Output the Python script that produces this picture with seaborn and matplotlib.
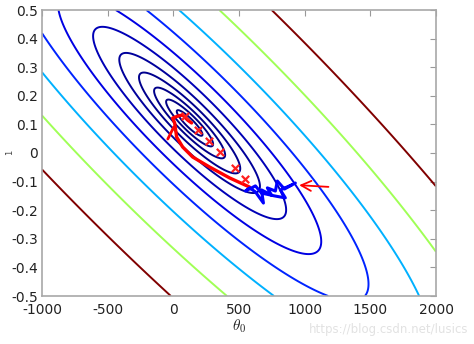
import numpy as np
import pandas as pd
import matplotlib
matplotlib.use("Agg")
import matplotlib.pyplot as plt
import seaborn as sns

# Quadratic cost surface J(theta0, theta1) = J_MIN + a*d0^2 + b*d0*d1 + c*d1^2
THETA0_MIN = 124.0
THETA1_MIN = 0.105
J_MIN = 1.5
COEF_A = 4.72974e-4
COEF_B = 1.86861
COEF_C = 2.25990e3
LEVELS = np.logspace(-2, 3, 20)

# Batch gradient descent iterates (red crosses)
batch_theta0 = [86, 185, 268, 352, 473, 549]
batch_theta1 = [0.129, 0.080, 0.042, 0.0035, -0.052, -0.091]

# Red descent trace
red_theta0 = [580, 428, 276, 147, 71, 25, 10, -5, 33, 71, 109, 139]
red_theta1 = [-0.119, -0.087, -0.049, -0.014, 0.021, 0.056, 0.105, 0.122, 0.129, 0.133, 0.115, 0.105]
red_tick_theta0 = [-42, 4]
red_tick_theta1 = [0.049, 0.091]

# Stochastic gradient descent trace (blue)
sgd_theta0 = [929, 846, 792, 777, 716, 747, 671, 686, 625, 580, 549, 625, 671, 770, 853, 815, 899]
sgd_theta1 = [-0.105, -0.126, -0.098, -0.133, -0.122, -0.147, -0.129, -0.175, -0.136,
              -0.122, -0.133, -0.115, -0.140, -0.150, -0.157, -0.129, -0.112]

# Arrow marking the starting point
arrow_tail = (1202, -0.119)
arrow_head = (937, -0.112)

x_ticks = [-1000, -500, 0, 500, 1000, 1500, 2000]
y_ticks = [-0.5, -0.4, -0.3, -0.2, -0.1, 0, 0.1, 0.2, 0.3, 0.4, 0.5]


def cost(t0, t1):
    d0 = t0 - THETA0_MIN
    d1 = t1 - THETA1_MIN
    return J_MIN + COEF_A * d0 ** 2 + COEF_B * d0 * d1 + COEF_C * d1 ** 2


sns.set_style("white")
plt.rcParams["font.family"] = ["DejaVu Sans"]
plt.rcParams["mathtext.fontset"] = "cm"

fig = plt.figure(figsize=(4.74, 3.44), dpi=100)
ax = fig.add_axes([42 / 474, 48 / 344, 394 / 474, 286 / 344])

g0 = np.linspace(-1000, 2000, 500)
g1 = np.linspace(-0.5, 0.5, 500)
G0, G1 = np.meshgrid(g0, g1)
Z = cost(G0, G1)

jet = matplotlib.colormaps["jet"]
colors = [jet(l / LEVELS[-1]) for l in LEVELS]
ax.contour(G0, G1, Z, levels=LEVELS, colors=colors, linewidths=1.4)

red_df = pd.DataFrame({"theta0": red_theta0, "theta1": red_theta1})
sns.lineplot(data=red_df, x="theta0", y="theta1", sort=False, estimator=None,
             color="#ff0000", linewidth=2.4, ax=ax)
ax.plot(red_tick_theta0, red_tick_theta1, color="#ff0000", linewidth=2.0)

sgd_df = pd.DataFrame({"theta0": sgd_theta0, "theta1": sgd_theta1})
sns.lineplot(data=sgd_df, x="theta0", y="theta1", sort=False, estimator=None,
             color="#0000ff", linewidth=2.2, ax=ax)

batch_df = pd.DataFrame({"theta0": batch_theta0, "theta1": batch_theta1})
sns.scatterplot(data=batch_df, x="theta0", y="theta1", marker="x", color="#ff2020",
                s=28, linewidth=1.6, ax=ax, zorder=5)

ax.annotate("", xy=arrow_head, xytext=arrow_tail,
            arrowprops=dict(arrowstyle="->", color="#ff0000", lw=1.3,
                            mutation_scale=18))

ax.set_xlim(-1000, 2000)
ax.set_ylim(-0.5, 0.5)
ax.set_xticks(x_ticks)
ax.set_yticks(y_ticks)
ax.set_xticklabels([str(v) for v in x_ticks])
ax.set_yticklabels([f"{v:g}" for v in y_ticks])
ax.tick_params(direction="in", length=4, width=0.8, color="#999999",
               top=True, right=True, labelsize=10, labelcolor="#222222")
ax.tick_params(axis="x", pad=5)
ax.tick_params(axis="y", pad=3)
for s in ax.spines.values():
    s.set_color("#a8a8a8")
    s.set_linewidth(1.2)

ax.set_xlabel(r"$\theta_0$", fontsize=11, labelpad=0, color="#222222")
ax.set_ylabel("")
fig.text(10 / 474, 1 - 152 / 344, "1", rotation=90, fontsize=6,
         ha="center", va="center", color="#444444")
fig.text(389 / 474, 1 - 329 / 344, "https://blog.csdn.net/lusics", fontsize=8.5,
         ha="center", va="center", color="#e2e2e2")

fig.savefig("out.png", dpi=100)
